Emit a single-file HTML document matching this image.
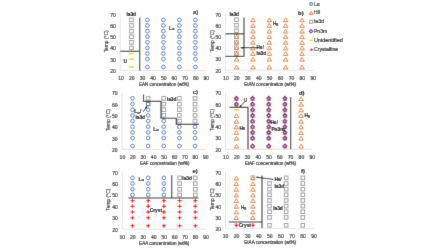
<!DOCTYPE html>
<html><head><meta charset="utf-8"><style>
html,body{margin:0;padding:0;background:#fff;}
body{width:448px;height:252px;overflow:hidden;}
svg{display:block;font-family:"Liberation Sans",Arial,sans-serif;}
</style></head><body>
<svg width="448" height="252" viewBox="0 0 448 252">
<defs><filter id="bl" x="0" y="0" width="1" height="1"><feConvolveMatrix order="3" kernelMatrix="1 9 1 9 81 9 1 9 1" divisor="121" edgeMode="duplicate" preserveAlpha="true"/></filter></defs>
<rect width="448" height="252" fill="#fff"/>
<g filter="url(#bl)">
<rect width="448" height="252" fill="#fff"/>
<line x1="120.2" y1="14.25" x2="120.2" y2="70.4" stroke="#D9D9D9" stroke-width="0.7"/>
<line x1="120.2" y1="70.4" x2="206.55" y2="70.4" stroke="#D9D9D9" stroke-width="0.7"/>
<text x="115.8" y="72.9" font-size="5" text-anchor="end" font-weight="normal" fill="#3a3a3a" stroke="#3a3a3a" stroke-width="0.22">20</text>
<text x="115.8" y="61.67" font-size="5" text-anchor="end" font-weight="normal" fill="#3a3a3a" stroke="#3a3a3a" stroke-width="0.22">30</text>
<text x="115.8" y="50.44" font-size="5" text-anchor="end" font-weight="normal" fill="#3a3a3a" stroke="#3a3a3a" stroke-width="0.22">40</text>
<text x="115.8" y="39.21" font-size="5" text-anchor="end" font-weight="normal" fill="#3a3a3a" stroke="#3a3a3a" stroke-width="0.22">50</text>
<text x="115.8" y="27.98" font-size="5" text-anchor="end" font-weight="normal" fill="#3a3a3a" stroke="#3a3a3a" stroke-width="0.22">60</text>
<text x="115.8" y="16.75" font-size="5" text-anchor="end" font-weight="normal" fill="#3a3a3a" stroke="#3a3a3a" stroke-width="0.22">70</text>
<text x="121.1" y="79.7" font-size="5" text-anchor="middle" font-weight="normal" fill="#3a3a3a" stroke="#3a3a3a" stroke-width="0.22">10</text>
<text x="131.76" y="79.7" font-size="5" text-anchor="middle" font-weight="normal" fill="#3a3a3a" stroke="#3a3a3a" stroke-width="0.22">20</text>
<text x="142.41" y="79.7" font-size="5" text-anchor="middle" font-weight="normal" fill="#3a3a3a" stroke="#3a3a3a" stroke-width="0.22">30</text>
<text x="153.07" y="79.7" font-size="5" text-anchor="middle" font-weight="normal" fill="#3a3a3a" stroke="#3a3a3a" stroke-width="0.22">40</text>
<text x="163.72" y="79.7" font-size="5" text-anchor="middle" font-weight="normal" fill="#3a3a3a" stroke="#3a3a3a" stroke-width="0.22">50</text>
<text x="174.38" y="79.7" font-size="5" text-anchor="middle" font-weight="normal" fill="#3a3a3a" stroke="#3a3a3a" stroke-width="0.22">60</text>
<text x="185.04" y="79.7" font-size="5" text-anchor="middle" font-weight="normal" fill="#3a3a3a" stroke="#3a3a3a" stroke-width="0.22">70</text>
<text x="195.69" y="79.7" font-size="5" text-anchor="middle" font-weight="normal" fill="#3a3a3a" stroke="#3a3a3a" stroke-width="0.22">80</text>
<text x="206.35" y="79.7" font-size="5" text-anchor="middle" font-weight="normal" fill="#3a3a3a" stroke="#3a3a3a" stroke-width="0.22">90</text>
<text x="139" y="86.3" font-size="4.42" text-anchor="start" font-weight="normal" fill="#3a3a3a" textLength="50" lengthAdjust="spacingAndGlyphs" stroke="#3a3a3a" stroke-width="0.22">EAN concentration (wt%)</text>
<text x="108.4" y="41.33" font-size="4.9" text-anchor="middle" fill="#3a3a3a" transform="rotate(-90 108.4 41.33)" stroke="#3a3a3a" stroke-width="0.2">Temp (°C)</text>
<text x="195.7" y="13.7" font-size="6" text-anchor="middle" font-weight="bold" fill="#000" stroke="#000" stroke-width="0.12">a)</text>
<line x1="225.4" y1="14" x2="225.4" y2="70.2" stroke="#D9D9D9" stroke-width="0.7"/>
<line x1="225.4" y1="70.2" x2="313.5" y2="70.2" stroke="#D9D9D9" stroke-width="0.7"/>
<text x="221" y="72.7" font-size="5" text-anchor="end" font-weight="normal" fill="#3a3a3a" stroke="#3a3a3a" stroke-width="0.22">20</text>
<text x="221" y="61.46" font-size="5" text-anchor="end" font-weight="normal" fill="#3a3a3a" stroke="#3a3a3a" stroke-width="0.22">30</text>
<text x="221" y="50.22" font-size="5" text-anchor="end" font-weight="normal" fill="#3a3a3a" stroke="#3a3a3a" stroke-width="0.22">40</text>
<text x="221" y="38.98" font-size="5" text-anchor="end" font-weight="normal" fill="#3a3a3a" stroke="#3a3a3a" stroke-width="0.22">50</text>
<text x="221" y="27.74" font-size="5" text-anchor="end" font-weight="normal" fill="#3a3a3a" stroke="#3a3a3a" stroke-width="0.22">60</text>
<text x="221" y="16.5" font-size="5" text-anchor="end" font-weight="normal" fill="#3a3a3a" stroke="#3a3a3a" stroke-width="0.22">70</text>
<text x="225.9" y="79.5" font-size="5" text-anchor="middle" font-weight="normal" fill="#3a3a3a" stroke="#3a3a3a" stroke-width="0.22">10</text>
<text x="236.83" y="79.5" font-size="5" text-anchor="middle" font-weight="normal" fill="#3a3a3a" stroke="#3a3a3a" stroke-width="0.22">20</text>
<text x="247.75" y="79.5" font-size="5" text-anchor="middle" font-weight="normal" fill="#3a3a3a" stroke="#3a3a3a" stroke-width="0.22">30</text>
<text x="258.68" y="79.5" font-size="5" text-anchor="middle" font-weight="normal" fill="#3a3a3a" stroke="#3a3a3a" stroke-width="0.22">40</text>
<text x="269.6" y="79.5" font-size="5" text-anchor="middle" font-weight="normal" fill="#3a3a3a" stroke="#3a3a3a" stroke-width="0.22">50</text>
<text x="280.53" y="79.5" font-size="5" text-anchor="middle" font-weight="normal" fill="#3a3a3a" stroke="#3a3a3a" stroke-width="0.22">60</text>
<text x="291.45" y="79.5" font-size="5" text-anchor="middle" font-weight="normal" fill="#3a3a3a" stroke="#3a3a3a" stroke-width="0.22">70</text>
<text x="302.38" y="79.5" font-size="5" text-anchor="middle" font-weight="normal" fill="#3a3a3a" stroke="#3a3a3a" stroke-width="0.22">80</text>
<text x="313.3" y="79.5" font-size="5" text-anchor="middle" font-weight="normal" fill="#3a3a3a" stroke="#3a3a3a" stroke-width="0.22">90</text>
<text x="244.3" y="86.1" font-size="4.42" text-anchor="start" font-weight="normal" fill="#3a3a3a" textLength="51.8" lengthAdjust="spacingAndGlyphs" stroke="#3a3a3a" stroke-width="0.22">EtAN concentration (wt%)</text>
<text x="213.6" y="41.1" font-size="4.9" text-anchor="middle" fill="#3a3a3a" transform="rotate(-90 213.6 41.1)" stroke="#3a3a3a" stroke-width="0.2">Temp (°C)</text>
<text x="300.9" y="14.6" font-size="6" text-anchor="middle" font-weight="bold" fill="#000" stroke="#000" stroke-width="0.12">b)</text>
<line x1="122" y1="92.7" x2="122" y2="149.4" stroke="#D9D9D9" stroke-width="0.7"/>
<line x1="122" y1="149.4" x2="205.94" y2="149.4" stroke="#D9D9D9" stroke-width="0.7"/>
<text x="117.6" y="151.9" font-size="5" text-anchor="end" font-weight="normal" fill="#3a3a3a" stroke="#3a3a3a" stroke-width="0.22">20</text>
<text x="117.6" y="140.56" font-size="5" text-anchor="end" font-weight="normal" fill="#3a3a3a" stroke="#3a3a3a" stroke-width="0.22">30</text>
<text x="117.6" y="129.22" font-size="5" text-anchor="end" font-weight="normal" fill="#3a3a3a" stroke="#3a3a3a" stroke-width="0.22">40</text>
<text x="117.6" y="117.88" font-size="5" text-anchor="end" font-weight="normal" fill="#3a3a3a" stroke="#3a3a3a" stroke-width="0.22">50</text>
<text x="117.6" y="106.54" font-size="5" text-anchor="end" font-weight="normal" fill="#3a3a3a" stroke="#3a3a3a" stroke-width="0.22">60</text>
<text x="117.6" y="95.2" font-size="5" text-anchor="end" font-weight="normal" fill="#3a3a3a" stroke="#3a3a3a" stroke-width="0.22">70</text>
<text x="122.4" y="158.7" font-size="5" text-anchor="middle" font-weight="normal" fill="#3a3a3a" stroke="#3a3a3a" stroke-width="0.22">10</text>
<text x="132.82" y="158.7" font-size="5" text-anchor="middle" font-weight="normal" fill="#3a3a3a" stroke="#3a3a3a" stroke-width="0.22">20</text>
<text x="143.23" y="158.7" font-size="5" text-anchor="middle" font-weight="normal" fill="#3a3a3a" stroke="#3a3a3a" stroke-width="0.22">30</text>
<text x="153.65" y="158.7" font-size="5" text-anchor="middle" font-weight="normal" fill="#3a3a3a" stroke="#3a3a3a" stroke-width="0.22">40</text>
<text x="164.07" y="158.7" font-size="5" text-anchor="middle" font-weight="normal" fill="#3a3a3a" stroke="#3a3a3a" stroke-width="0.22">50</text>
<text x="174.49" y="158.7" font-size="5" text-anchor="middle" font-weight="normal" fill="#3a3a3a" stroke="#3a3a3a" stroke-width="0.22">60</text>
<text x="184.9" y="158.7" font-size="5" text-anchor="middle" font-weight="normal" fill="#3a3a3a" stroke="#3a3a3a" stroke-width="0.22">70</text>
<text x="195.32" y="158.7" font-size="5" text-anchor="middle" font-weight="normal" fill="#3a3a3a" stroke="#3a3a3a" stroke-width="0.22">80</text>
<text x="205.74" y="158.7" font-size="5" text-anchor="middle" font-weight="normal" fill="#3a3a3a" stroke="#3a3a3a" stroke-width="0.22">90</text>
<text x="139.9" y="165.3" font-size="4.42" text-anchor="start" font-weight="normal" fill="#3a3a3a" textLength="49.5" lengthAdjust="spacingAndGlyphs" stroke="#3a3a3a" stroke-width="0.22">EAF concentration (wt%)</text>
<text x="110.2" y="120.05" font-size="4.9" text-anchor="middle" fill="#3a3a3a" transform="rotate(-90 110.2 120.05)" stroke="#3a3a3a" stroke-width="0.2">Temp (°C)</text>
<text x="195.4" y="94.1" font-size="6" text-anchor="middle" font-weight="bold" fill="#000" stroke="#000" stroke-width="0.12">c)</text>
<line x1="225.5" y1="92.7" x2="225.5" y2="149.3" stroke="#D9D9D9" stroke-width="0.7"/>
<line x1="225.5" y1="149.3" x2="312.38" y2="149.3" stroke="#D9D9D9" stroke-width="0.7"/>
<text x="221.1" y="151.8" font-size="5" text-anchor="end" font-weight="normal" fill="#3a3a3a" stroke="#3a3a3a" stroke-width="0.22">20</text>
<text x="221.1" y="140.48" font-size="5" text-anchor="end" font-weight="normal" fill="#3a3a3a" stroke="#3a3a3a" stroke-width="0.22">30</text>
<text x="221.1" y="129.16" font-size="5" text-anchor="end" font-weight="normal" fill="#3a3a3a" stroke="#3a3a3a" stroke-width="0.22">40</text>
<text x="221.1" y="117.84" font-size="5" text-anchor="end" font-weight="normal" fill="#3a3a3a" stroke="#3a3a3a" stroke-width="0.22">50</text>
<text x="221.1" y="106.52" font-size="5" text-anchor="end" font-weight="normal" fill="#3a3a3a" stroke="#3a3a3a" stroke-width="0.22">60</text>
<text x="221.1" y="95.2" font-size="5" text-anchor="end" font-weight="normal" fill="#3a3a3a" stroke="#3a3a3a" stroke-width="0.22">70</text>
<text x="225.9" y="158.6" font-size="5" text-anchor="middle" font-weight="normal" fill="#3a3a3a" stroke="#3a3a3a" stroke-width="0.22">10</text>
<text x="236.69" y="158.6" font-size="5" text-anchor="middle" font-weight="normal" fill="#3a3a3a" stroke="#3a3a3a" stroke-width="0.22">20</text>
<text x="247.47" y="158.6" font-size="5" text-anchor="middle" font-weight="normal" fill="#3a3a3a" stroke="#3a3a3a" stroke-width="0.22">30</text>
<text x="258.25" y="158.6" font-size="5" text-anchor="middle" font-weight="normal" fill="#3a3a3a" stroke="#3a3a3a" stroke-width="0.22">40</text>
<text x="269.04" y="158.6" font-size="5" text-anchor="middle" font-weight="normal" fill="#3a3a3a" stroke="#3a3a3a" stroke-width="0.22">50</text>
<text x="279.82" y="158.6" font-size="5" text-anchor="middle" font-weight="normal" fill="#3a3a3a" stroke="#3a3a3a" stroke-width="0.22">60</text>
<text x="290.61" y="158.6" font-size="5" text-anchor="middle" font-weight="normal" fill="#3a3a3a" stroke="#3a3a3a" stroke-width="0.22">70</text>
<text x="301.4" y="158.6" font-size="5" text-anchor="middle" font-weight="normal" fill="#3a3a3a" stroke="#3a3a3a" stroke-width="0.22">80</text>
<text x="312.18" y="158.6" font-size="5" text-anchor="middle" font-weight="normal" fill="#3a3a3a" stroke="#3a3a3a" stroke-width="0.22">90</text>
<text x="244.8" y="165.2" font-size="4.42" text-anchor="start" font-weight="normal" fill="#3a3a3a" textLength="51.2" lengthAdjust="spacingAndGlyphs" stroke="#3a3a3a" stroke-width="0.22">EtAF concentration (wt%)</text>
<text x="213.7" y="120" font-size="4.9" text-anchor="middle" fill="#3a3a3a" transform="rotate(-90 213.7 120)" stroke="#3a3a3a" stroke-width="0.2">Temp (°C)</text>
<text x="301.8" y="94.8" font-size="6" text-anchor="middle" font-weight="bold" fill="#000" stroke="#000" stroke-width="0.12">d)</text>
<line x1="122.3" y1="172.2" x2="122.3" y2="229.2" stroke="#D9D9D9" stroke-width="0.7"/>
<line x1="122.3" y1="229.2" x2="206.26" y2="229.2" stroke="#D9D9D9" stroke-width="0.7"/>
<text x="117.9" y="231.6" font-size="5" text-anchor="end" font-weight="normal" fill="#3a3a3a" stroke="#3a3a3a" stroke-width="0.22">20</text>
<text x="117.9" y="220.22" font-size="5" text-anchor="end" font-weight="normal" fill="#3a3a3a" stroke="#3a3a3a" stroke-width="0.22">30</text>
<text x="117.9" y="208.84" font-size="5" text-anchor="end" font-weight="normal" fill="#3a3a3a" stroke="#3a3a3a" stroke-width="0.22">40</text>
<text x="117.9" y="197.46" font-size="5" text-anchor="end" font-weight="normal" fill="#3a3a3a" stroke="#3a3a3a" stroke-width="0.22">50</text>
<text x="117.9" y="186.08" font-size="5" text-anchor="end" font-weight="normal" fill="#3a3a3a" stroke="#3a3a3a" stroke-width="0.22">60</text>
<text x="117.9" y="174.7" font-size="5" text-anchor="end" font-weight="normal" fill="#3a3a3a" stroke="#3a3a3a" stroke-width="0.22">70</text>
<text x="122.3" y="238.5" font-size="5" text-anchor="middle" font-weight="normal" fill="#3a3a3a" stroke="#3a3a3a" stroke-width="0.22">10</text>
<text x="132.77" y="238.5" font-size="5" text-anchor="middle" font-weight="normal" fill="#3a3a3a" stroke="#3a3a3a" stroke-width="0.22">20</text>
<text x="143.24" y="238.5" font-size="5" text-anchor="middle" font-weight="normal" fill="#3a3a3a" stroke="#3a3a3a" stroke-width="0.22">30</text>
<text x="153.71" y="238.5" font-size="5" text-anchor="middle" font-weight="normal" fill="#3a3a3a" stroke="#3a3a3a" stroke-width="0.22">40</text>
<text x="164.18" y="238.5" font-size="5" text-anchor="middle" font-weight="normal" fill="#3a3a3a" stroke="#3a3a3a" stroke-width="0.22">50</text>
<text x="174.65" y="238.5" font-size="5" text-anchor="middle" font-weight="normal" fill="#3a3a3a" stroke="#3a3a3a" stroke-width="0.22">60</text>
<text x="185.12" y="238.5" font-size="5" text-anchor="middle" font-weight="normal" fill="#3a3a3a" stroke="#3a3a3a" stroke-width="0.22">70</text>
<text x="195.59" y="238.5" font-size="5" text-anchor="middle" font-weight="normal" fill="#3a3a3a" stroke="#3a3a3a" stroke-width="0.22">80</text>
<text x="206.06" y="238.5" font-size="5" text-anchor="middle" font-weight="normal" fill="#3a3a3a" stroke="#3a3a3a" stroke-width="0.22">90</text>
<text x="139.1" y="245.1" font-size="4.42" text-anchor="start" font-weight="normal" fill="#3a3a3a" textLength="50.3" lengthAdjust="spacingAndGlyphs" stroke="#3a3a3a" stroke-width="0.22">EAA concentration (wt%)</text>
<text x="110.5" y="199.7" font-size="4.9" text-anchor="middle" fill="#3a3a3a" transform="rotate(-90 110.5 199.7)" stroke="#3a3a3a" stroke-width="0.2">Temp (°C)</text>
<text x="195.2" y="172.8" font-size="6" text-anchor="middle" font-weight="bold" fill="#000" stroke="#000" stroke-width="0.12">e)</text>
<line x1="225.5" y1="172.2" x2="225.5" y2="228.4" stroke="#D9D9D9" stroke-width="0.7"/>
<line x1="225.5" y1="228.4" x2="314.34" y2="228.4" stroke="#D9D9D9" stroke-width="0.7"/>
<text x="221.1" y="231.2" font-size="5" text-anchor="end" font-weight="normal" fill="#3a3a3a" stroke="#3a3a3a" stroke-width="0.22">20</text>
<text x="221.1" y="219.9" font-size="5" text-anchor="end" font-weight="normal" fill="#3a3a3a" stroke="#3a3a3a" stroke-width="0.22">30</text>
<text x="221.1" y="208.6" font-size="5" text-anchor="end" font-weight="normal" fill="#3a3a3a" stroke="#3a3a3a" stroke-width="0.22">40</text>
<text x="221.1" y="197.3" font-size="5" text-anchor="end" font-weight="normal" fill="#3a3a3a" stroke="#3a3a3a" stroke-width="0.22">50</text>
<text x="221.1" y="186" font-size="5" text-anchor="end" font-weight="normal" fill="#3a3a3a" stroke="#3a3a3a" stroke-width="0.22">60</text>
<text x="221.1" y="174.7" font-size="5" text-anchor="end" font-weight="normal" fill="#3a3a3a" stroke="#3a3a3a" stroke-width="0.22">70</text>
<text x="225.5" y="237.7" font-size="5" text-anchor="middle" font-weight="normal" fill="#3a3a3a" stroke="#3a3a3a" stroke-width="0.22">10</text>
<text x="236.58" y="237.7" font-size="5" text-anchor="middle" font-weight="normal" fill="#3a3a3a" stroke="#3a3a3a" stroke-width="0.22">20</text>
<text x="247.66" y="237.7" font-size="5" text-anchor="middle" font-weight="normal" fill="#3a3a3a" stroke="#3a3a3a" stroke-width="0.22">30</text>
<text x="258.74" y="237.7" font-size="5" text-anchor="middle" font-weight="normal" fill="#3a3a3a" stroke="#3a3a3a" stroke-width="0.22">40</text>
<text x="269.82" y="237.7" font-size="5" text-anchor="middle" font-weight="normal" fill="#3a3a3a" stroke="#3a3a3a" stroke-width="0.22">50</text>
<text x="280.9" y="237.7" font-size="5" text-anchor="middle" font-weight="normal" fill="#3a3a3a" stroke="#3a3a3a" stroke-width="0.22">60</text>
<text x="291.98" y="237.7" font-size="5" text-anchor="middle" font-weight="normal" fill="#3a3a3a" stroke="#3a3a3a" stroke-width="0.22">70</text>
<text x="303.06" y="237.7" font-size="5" text-anchor="middle" font-weight="normal" fill="#3a3a3a" stroke="#3a3a3a" stroke-width="0.22">80</text>
<text x="314.14" y="237.7" font-size="5" text-anchor="middle" font-weight="normal" fill="#3a3a3a" stroke="#3a3a3a" stroke-width="0.22">90</text>
<text x="244.3" y="244.3" font-size="4.42" text-anchor="start" font-weight="normal" fill="#3a3a3a" textLength="51.8" lengthAdjust="spacingAndGlyphs" stroke="#3a3a3a" stroke-width="0.22">EtAA concentration (wt%)</text>
<text x="213.7" y="199.3" font-size="4.9" text-anchor="middle" fill="#3a3a3a" transform="rotate(-90 213.7 199.3)" stroke="#3a3a3a" stroke-width="0.2">Temp (°C)</text>
<text x="303" y="172.9" font-size="6" text-anchor="middle" font-weight="bold" fill="#000" stroke="#000" stroke-width="0.12">f)</text>
<rect x="129.66" y="18.07" width="3.6" height="3.6" fill="none" stroke="#999999" stroke-width="0.95"/>
<rect x="129.66" y="23.68" width="3.6" height="3.6" fill="none" stroke="#999999" stroke-width="0.95"/>
<rect x="129.66" y="29.3" width="3.6" height="3.6" fill="none" stroke="#999999" stroke-width="0.95"/>
<rect x="129.66" y="34.91" width="3.6" height="3.6" fill="none" stroke="#999999" stroke-width="0.95"/>
<rect x="129.66" y="40.53" width="3.6" height="3.6" fill="none" stroke="#999999" stroke-width="0.95"/>
<rect x="129.66" y="46.14" width="3.6" height="3.6" fill="none" stroke="#999999" stroke-width="0.95"/>
<line x1="128.96" y1="53.56" x2="133.96" y2="53.56" stroke="#FFC000" stroke-width="1.3"/>
<line x1="128.96" y1="59.17" x2="133.96" y2="59.17" stroke="#FFC000" stroke-width="1.3"/>
<line x1="128.96" y1="67.03" x2="133.96" y2="67.03" stroke="#FFC000" stroke-width="1.3"/>
<circle cx="147.44" cy="19.87" r="1.85" fill="none" stroke="#3D6BC0" stroke-width="0.9"/>
<circle cx="147.44" cy="25.48" r="1.85" fill="none" stroke="#3D6BC0" stroke-width="0.9"/>
<circle cx="147.44" cy="31.1" r="1.85" fill="none" stroke="#3D6BC0" stroke-width="0.9"/>
<circle cx="147.44" cy="36.71" r="1.85" fill="none" stroke="#3D6BC0" stroke-width="0.9"/>
<circle cx="147.44" cy="42.33" r="1.85" fill="none" stroke="#3D6BC0" stroke-width="0.9"/>
<circle cx="147.44" cy="47.94" r="1.85" fill="none" stroke="#3D6BC0" stroke-width="0.9"/>
<circle cx="147.44" cy="53.56" r="1.85" fill="none" stroke="#3D6BC0" stroke-width="0.9"/>
<circle cx="147.44" cy="59.17" r="1.85" fill="none" stroke="#3D6BC0" stroke-width="0.9"/>
<circle cx="147.44" cy="67.03" r="1.85" fill="none" stroke="#3D6BC0" stroke-width="0.9"/>
<circle cx="163.42" cy="19.87" r="1.85" fill="none" stroke="#3D6BC0" stroke-width="0.9"/>
<circle cx="163.42" cy="25.48" r="1.85" fill="none" stroke="#3D6BC0" stroke-width="0.9"/>
<circle cx="163.42" cy="31.1" r="1.85" fill="none" stroke="#3D6BC0" stroke-width="0.9"/>
<circle cx="163.42" cy="36.71" r="1.85" fill="none" stroke="#3D6BC0" stroke-width="0.9"/>
<circle cx="163.42" cy="42.33" r="1.85" fill="none" stroke="#3D6BC0" stroke-width="0.9"/>
<circle cx="163.42" cy="47.94" r="1.85" fill="none" stroke="#3D6BC0" stroke-width="0.9"/>
<circle cx="163.42" cy="53.56" r="1.85" fill="none" stroke="#3D6BC0" stroke-width="0.9"/>
<circle cx="163.42" cy="59.17" r="1.85" fill="none" stroke="#3D6BC0" stroke-width="0.9"/>
<circle cx="163.42" cy="67.03" r="1.85" fill="none" stroke="#3D6BC0" stroke-width="0.9"/>
<circle cx="179.41" cy="19.87" r="1.85" fill="none" stroke="#3D6BC0" stroke-width="0.9"/>
<circle cx="179.41" cy="25.48" r="1.85" fill="none" stroke="#3D6BC0" stroke-width="0.9"/>
<circle cx="179.41" cy="31.1" r="1.85" fill="none" stroke="#3D6BC0" stroke-width="0.9"/>
<circle cx="179.41" cy="36.71" r="1.85" fill="none" stroke="#3D6BC0" stroke-width="0.9"/>
<circle cx="179.41" cy="42.33" r="1.85" fill="none" stroke="#3D6BC0" stroke-width="0.9"/>
<circle cx="179.41" cy="47.94" r="1.85" fill="none" stroke="#3D6BC0" stroke-width="0.9"/>
<circle cx="179.41" cy="53.56" r="1.85" fill="none" stroke="#3D6BC0" stroke-width="0.9"/>
<circle cx="179.41" cy="59.17" r="1.85" fill="none" stroke="#3D6BC0" stroke-width="0.9"/>
<circle cx="179.41" cy="67.03" r="1.85" fill="none" stroke="#3D6BC0" stroke-width="0.9"/>
<circle cx="195.39" cy="19.87" r="1.85" fill="none" stroke="#3D6BC0" stroke-width="0.9"/>
<circle cx="195.39" cy="25.48" r="1.85" fill="none" stroke="#3D6BC0" stroke-width="0.9"/>
<circle cx="195.39" cy="31.1" r="1.85" fill="none" stroke="#3D6BC0" stroke-width="0.9"/>
<circle cx="195.39" cy="36.71" r="1.85" fill="none" stroke="#3D6BC0" stroke-width="0.9"/>
<circle cx="195.39" cy="42.33" r="1.85" fill="none" stroke="#3D6BC0" stroke-width="0.9"/>
<circle cx="195.39" cy="47.94" r="1.85" fill="none" stroke="#3D6BC0" stroke-width="0.9"/>
<circle cx="195.39" cy="53.56" r="1.85" fill="none" stroke="#3D6BC0" stroke-width="0.9"/>
<circle cx="195.39" cy="59.17" r="1.85" fill="none" stroke="#3D6BC0" stroke-width="0.9"/>
<circle cx="195.39" cy="67.03" r="1.85" fill="none" stroke="#3D6BC0" stroke-width="0.9"/>
<path d="M139.7 17.7 L139.7 70.4" stroke="#3a3a3a" stroke-width="1.15" fill="none"/>
<path d="M120.2 51.3 L139.7 51.3" stroke="#3a3a3a" stroke-width="1.15" fill="none"/>
<text x="131.2" y="16.2" font-size="4.8" text-anchor="middle" font-weight="bold" fill="#000" stroke="#000" stroke-width="0.12">Ia3d</text>
<text x="171.8" y="29.9" font-size="4.8" text-anchor="middle" font-weight="bold" fill="#000" stroke="#000" stroke-width="0.12">L<tspan font-size="4.0" dy="0.35">α</tspan></text>
<text x="125.3" y="62.9" font-size="4.8" text-anchor="middle" font-weight="bold" fill="#000" stroke="#000" stroke-width="0.12">U</text>
<rect x="234.58" y="34.53" width="3.9" height="3.9" fill="none" stroke="#999999" stroke-width="0.75"/>
<polygon points="236.53,35.08 234.53,38.48 238.53,38.48" fill="none" stroke="#EB7424" stroke-width="0.9" stroke-linejoin="round"/>
<rect x="234.58" y="40.15" width="3.9" height="3.9" fill="none" stroke="#999999" stroke-width="0.75"/>
<polygon points="236.53,40.7 234.53,44.1 238.53,44.1" fill="none" stroke="#EB7424" stroke-width="0.9" stroke-linejoin="round"/>
<rect x="234.58" y="45.77" width="3.9" height="3.9" fill="none" stroke="#999999" stroke-width="0.75"/>
<polygon points="236.53,46.32 234.53,49.72 238.53,49.72" fill="none" stroke="#EB7424" stroke-width="0.9" stroke-linejoin="round"/>
<rect x="234.58" y="51.39" width="3.9" height="3.9" fill="none" stroke="#999999" stroke-width="0.75"/>
<polygon points="236.53,51.94 234.53,55.34 238.53,55.34" fill="none" stroke="#EB7424" stroke-width="0.9" stroke-linejoin="round"/>
<rect x="234.72" y="17.82" width="3.6" height="3.6" fill="none" stroke="#999999" stroke-width="0.95"/>
<rect x="234.72" y="23.44" width="3.6" height="3.6" fill="none" stroke="#999999" stroke-width="0.95"/>
<rect x="234.72" y="29.06" width="3.6" height="3.6" fill="none" stroke="#999999" stroke-width="0.95"/>
<polygon points="236.53,57.29 234.22,61.09 238.83,61.09" fill="none" stroke="#EB7424" stroke-width="0.9" stroke-linejoin="round"/>
<polygon points="236.53,65.16 234.22,68.96 238.83,68.96" fill="none" stroke="#EB7424" stroke-width="0.9" stroke-linejoin="round"/>
<polygon points="252.91,17.95 250.61,21.75 255.21,21.75" fill="none" stroke="#EB7424" stroke-width="0.9" stroke-linejoin="round"/>
<polygon points="252.91,23.57 250.61,27.37 255.21,27.37" fill="none" stroke="#EB7424" stroke-width="0.9" stroke-linejoin="round"/>
<polygon points="252.91,29.19 250.61,32.99 255.21,32.99" fill="none" stroke="#EB7424" stroke-width="0.9" stroke-linejoin="round"/>
<polygon points="252.91,34.81 250.61,38.61 255.21,38.61" fill="none" stroke="#EB7424" stroke-width="0.9" stroke-linejoin="round"/>
<polygon points="252.91,40.43 250.61,44.23 255.21,44.23" fill="none" stroke="#EB7424" stroke-width="0.9" stroke-linejoin="round"/>
<polygon points="252.91,46.05 250.61,49.85 255.21,49.85" fill="none" stroke="#EB7424" stroke-width="0.9" stroke-linejoin="round"/>
<polygon points="252.91,51.67 250.61,55.47 255.21,55.47" fill="none" stroke="#EB7424" stroke-width="0.9" stroke-linejoin="round"/>
<polygon points="252.91,57.29 250.61,61.09 255.21,61.09" fill="none" stroke="#EB7424" stroke-width="0.9" stroke-linejoin="round"/>
<polygon points="252.91,65.16 250.61,68.96 255.21,68.96" fill="none" stroke="#EB7424" stroke-width="0.9" stroke-linejoin="round"/>
<polygon points="269.3,17.95 267,21.75 271.6,21.75" fill="none" stroke="#EB7424" stroke-width="0.9" stroke-linejoin="round"/>
<polygon points="269.3,23.57 267,27.37 271.6,27.37" fill="none" stroke="#EB7424" stroke-width="0.9" stroke-linejoin="round"/>
<polygon points="269.3,29.19 267,32.99 271.6,32.99" fill="none" stroke="#EB7424" stroke-width="0.9" stroke-linejoin="round"/>
<polygon points="269.3,34.81 267,38.61 271.6,38.61" fill="none" stroke="#EB7424" stroke-width="0.9" stroke-linejoin="round"/>
<polygon points="269.3,40.43 267,44.23 271.6,44.23" fill="none" stroke="#EB7424" stroke-width="0.9" stroke-linejoin="round"/>
<polygon points="269.3,46.05 267,49.85 271.6,49.85" fill="none" stroke="#EB7424" stroke-width="0.9" stroke-linejoin="round"/>
<polygon points="269.3,51.67 267,55.47 271.6,55.47" fill="none" stroke="#EB7424" stroke-width="0.9" stroke-linejoin="round"/>
<polygon points="269.3,57.29 267,61.09 271.6,61.09" fill="none" stroke="#EB7424" stroke-width="0.9" stroke-linejoin="round"/>
<polygon points="269.3,65.16 267,68.96 271.6,68.96" fill="none" stroke="#EB7424" stroke-width="0.9" stroke-linejoin="round"/>
<polygon points="285.69,17.95 283.39,21.75 287.99,21.75" fill="none" stroke="#EB7424" stroke-width="0.9" stroke-linejoin="round"/>
<polygon points="285.69,23.57 283.39,27.37 287.99,27.37" fill="none" stroke="#EB7424" stroke-width="0.9" stroke-linejoin="round"/>
<polygon points="285.69,29.19 283.39,32.99 287.99,32.99" fill="none" stroke="#EB7424" stroke-width="0.9" stroke-linejoin="round"/>
<polygon points="285.69,34.81 283.39,38.61 287.99,38.61" fill="none" stroke="#EB7424" stroke-width="0.9" stroke-linejoin="round"/>
<polygon points="285.69,40.43 283.39,44.23 287.99,44.23" fill="none" stroke="#EB7424" stroke-width="0.9" stroke-linejoin="round"/>
<polygon points="285.69,46.05 283.39,49.85 287.99,49.85" fill="none" stroke="#EB7424" stroke-width="0.9" stroke-linejoin="round"/>
<polygon points="285.69,51.67 283.39,55.47 287.99,55.47" fill="none" stroke="#EB7424" stroke-width="0.9" stroke-linejoin="round"/>
<polygon points="285.69,57.29 283.39,61.09 287.99,61.09" fill="none" stroke="#EB7424" stroke-width="0.9" stroke-linejoin="round"/>
<polygon points="285.69,65.16 283.39,68.96 287.99,68.96" fill="none" stroke="#EB7424" stroke-width="0.9" stroke-linejoin="round"/>
<polygon points="302.07,17.95 299.77,21.75 304.38,21.75" fill="none" stroke="#EB7424" stroke-width="0.9" stroke-linejoin="round"/>
<polygon points="302.07,23.57 299.77,27.37 304.38,27.37" fill="none" stroke="#EB7424" stroke-width="0.9" stroke-linejoin="round"/>
<polygon points="302.07,29.19 299.77,32.99 304.38,32.99" fill="none" stroke="#EB7424" stroke-width="0.9" stroke-linejoin="round"/>
<polygon points="302.07,34.81 299.77,38.61 304.38,38.61" fill="none" stroke="#EB7424" stroke-width="0.9" stroke-linejoin="round"/>
<polygon points="302.07,40.43 299.77,44.23 304.38,44.23" fill="none" stroke="#EB7424" stroke-width="0.9" stroke-linejoin="round"/>
<polygon points="302.07,46.05 299.77,49.85 304.38,49.85" fill="none" stroke="#EB7424" stroke-width="0.9" stroke-linejoin="round"/>
<polygon points="302.07,51.67 299.77,55.47 304.38,55.47" fill="none" stroke="#EB7424" stroke-width="0.9" stroke-linejoin="round"/>
<polygon points="302.07,57.29 299.77,61.09 304.38,61.09" fill="none" stroke="#EB7424" stroke-width="0.9" stroke-linejoin="round"/>
<polygon points="302.07,65.16 299.77,68.96 304.38,68.96" fill="none" stroke="#EB7424" stroke-width="0.9" stroke-linejoin="round"/>
<path d="M244 17.5 L244 56.4" stroke="#3a3a3a" stroke-width="1.15" fill="none"/>
<path d="M225.4 33.8 L244 33.8" stroke="#3a3a3a" stroke-width="1.15" fill="none"/>
<path d="M225.4 56.4 L244 56.4" stroke="#3a3a3a" stroke-width="1.15" fill="none"/>
<line x1="257" y1="47.7" x2="240.6" y2="47.7" stroke="#000" stroke-width="0.8"/>
<polygon points="240.6,47.7 242.9,46.75 242.9,48.65" fill="#000"/>
<text x="234.2" y="16.2" font-size="4.8" text-anchor="middle" font-weight="bold" fill="#000" stroke="#000" stroke-width="0.12">Ia3d</text>
<text x="275.6" y="25.4" font-size="4.8" text-anchor="middle" font-weight="bold" fill="#000" stroke="#000" stroke-width="0.12">H<tspan font-size="3.7" dy="0.35">II</tspan></text>
<text x="256.6" y="48.8" font-size="4.8" text-anchor="start" font-weight="bold" fill="#000" stroke="#000" stroke-width="0.12">H<tspan font-size="3.7" dy="0.35">II</tspan><tspan dx="0.3" dy="-0.35">/</tspan></text>
<text x="256.6" y="55.2" font-size="4.8" text-anchor="start" font-weight="bold" fill="#000" stroke="#000" stroke-width="0.12">Ia3d</text>
<circle cx="132.52" cy="98.37" r="1.85" fill="none" stroke="#3D6BC0" stroke-width="0.9"/>
<circle cx="132.52" cy="104.04" r="1.85" fill="none" stroke="#3D6BC0" stroke-width="0.9"/>
<circle cx="132.52" cy="109.71" r="1.85" fill="none" stroke="#3D6BC0" stroke-width="0.9"/>
<circle cx="132.52" cy="115.38" r="1.85" fill="none" stroke="#3D6BC0" stroke-width="0.9"/>
<circle cx="132.52" cy="121.05" r="1.85" fill="none" stroke="#3D6BC0" stroke-width="0.9"/>
<circle cx="132.52" cy="126.72" r="1.85" fill="none" stroke="#3D6BC0" stroke-width="0.9"/>
<circle cx="132.52" cy="132.39" r="1.85" fill="none" stroke="#3D6BC0" stroke-width="0.9"/>
<circle cx="132.52" cy="138.06" r="1.85" fill="none" stroke="#3D6BC0" stroke-width="0.9"/>
<circle cx="132.52" cy="146" r="1.85" fill="none" stroke="#3D6BC0" stroke-width="0.9"/>
<rect x="146.34" y="96.57" width="3.6" height="3.6" fill="none" stroke="#999999" stroke-width="0.95"/>
<rect x="146.34" y="102.24" width="3.6" height="3.6" fill="none" stroke="#999999" stroke-width="0.95"/>
<circle cx="148.14" cy="104.04" r="1.85" fill="none" stroke="#3D6BC0" stroke-width="0.9"/>
<circle cx="148.14" cy="109.71" r="1.85" fill="none" stroke="#3D6BC0" stroke-width="0.9"/>
<circle cx="148.14" cy="115.38" r="1.85" fill="none" stroke="#3D6BC0" stroke-width="0.9"/>
<circle cx="148.14" cy="121.05" r="1.85" fill="none" stroke="#3D6BC0" stroke-width="0.9"/>
<circle cx="148.14" cy="126.72" r="1.85" fill="none" stroke="#3D6BC0" stroke-width="0.9"/>
<circle cx="148.14" cy="132.39" r="1.85" fill="none" stroke="#3D6BC0" stroke-width="0.9"/>
<circle cx="148.14" cy="138.06" r="1.85" fill="none" stroke="#3D6BC0" stroke-width="0.9"/>
<circle cx="148.14" cy="146" r="1.85" fill="none" stroke="#3D6BC0" stroke-width="0.9"/>
<rect x="161.97" y="96.57" width="3.6" height="3.6" fill="none" stroke="#999999" stroke-width="0.95"/>
<rect x="161.97" y="102.24" width="3.6" height="3.6" fill="none" stroke="#999999" stroke-width="0.95"/>
<rect x="161.97" y="107.91" width="3.6" height="3.6" fill="none" stroke="#999999" stroke-width="0.95"/>
<rect x="161.97" y="113.58" width="3.6" height="3.6" fill="none" stroke="#999999" stroke-width="0.95"/>
<circle cx="163.77" cy="121.05" r="1.85" fill="none" stroke="#3D6BC0" stroke-width="0.9"/>
<circle cx="163.77" cy="126.72" r="1.85" fill="none" stroke="#3D6BC0" stroke-width="0.9"/>
<circle cx="163.77" cy="132.39" r="1.85" fill="none" stroke="#3D6BC0" stroke-width="0.9"/>
<circle cx="163.77" cy="138.06" r="1.85" fill="none" stroke="#3D6BC0" stroke-width="0.9"/>
<circle cx="163.77" cy="146" r="1.85" fill="none" stroke="#3D6BC0" stroke-width="0.9"/>
<rect x="177.59" y="96.57" width="3.6" height="3.6" fill="none" stroke="#999999" stroke-width="0.95"/>
<rect x="177.59" y="102.24" width="3.6" height="3.6" fill="none" stroke="#999999" stroke-width="0.95"/>
<rect x="177.59" y="107.91" width="3.6" height="3.6" fill="none" stroke="#999999" stroke-width="0.95"/>
<rect x="177.59" y="113.58" width="3.6" height="3.6" fill="none" stroke="#999999" stroke-width="0.95"/>
<rect x="177.59" y="119.25" width="3.6" height="3.6" fill="none" stroke="#999999" stroke-width="0.95"/>
<circle cx="179.39" cy="126.72" r="1.85" fill="none" stroke="#3D6BC0" stroke-width="0.9"/>
<circle cx="179.39" cy="132.39" r="1.85" fill="none" stroke="#3D6BC0" stroke-width="0.9"/>
<circle cx="179.39" cy="138.06" r="1.85" fill="none" stroke="#3D6BC0" stroke-width="0.9"/>
<circle cx="179.39" cy="146" r="1.85" fill="none" stroke="#3D6BC0" stroke-width="0.9"/>
<rect x="193.22" y="96.57" width="3.6" height="3.6" fill="none" stroke="#999999" stroke-width="0.95"/>
<rect x="193.22" y="102.24" width="3.6" height="3.6" fill="none" stroke="#999999" stroke-width="0.95"/>
<rect x="193.22" y="107.91" width="3.6" height="3.6" fill="none" stroke="#999999" stroke-width="0.95"/>
<rect x="193.22" y="113.58" width="3.6" height="3.6" fill="none" stroke="#999999" stroke-width="0.95"/>
<rect x="193.22" y="119.25" width="3.6" height="3.6" fill="none" stroke="#999999" stroke-width="0.95"/>
<circle cx="195.02" cy="126.72" r="1.85" fill="none" stroke="#3D6BC0" stroke-width="0.9"/>
<circle cx="195.02" cy="132.39" r="1.85" fill="none" stroke="#3D6BC0" stroke-width="0.9"/>
<circle cx="195.02" cy="138.06" r="1.85" fill="none" stroke="#3D6BC0" stroke-width="0.9"/>
<circle cx="195.02" cy="146" r="1.85" fill="none" stroke="#3D6BC0" stroke-width="0.9"/>
<path d="M143.5 94.6 L143.5 101.3 L161 101.3 L161 118.2 L176.3 118.2 L176.3 124.3 L199 124.3" stroke="#3a3a3a" stroke-width="1.15" fill="none"/>
<line x1="143.2" y1="111.9" x2="147" y2="106" stroke="#000" stroke-width="0.8"/>
<polygon points="147,106 146.55,108.45 144.96,107.42" fill="#000"/>
<text x="137.8" y="113.2" font-size="4.8" text-anchor="middle" font-weight="bold" fill="#000" stroke="#000" stroke-width="0.12">L<tspan font-size="4.0" dy="0.35">α</tspan><tspan dx="0.3" dy="-0.35">/</tspan></text>
<text x="140.2" y="119.1" font-size="4.8" text-anchor="middle" font-weight="bold" fill="#000" stroke="#000" stroke-width="0.12">Ia3d</text>
<text x="166.8" y="100.9" font-size="4.8" text-anchor="start" font-weight="bold" fill="#000" stroke="#000" stroke-width="0.12">Ia3d</text>
<text x="156" y="130.7" font-size="4.8" text-anchor="middle" font-weight="bold" fill="#000" stroke="#000" stroke-width="0.12">L<tspan font-size="4.0" dy="0.35">α</tspan></text>
<polygon points="236.38,97.39 234.44,100.39 238.33,100.39" fill="none" stroke="#EB7424" stroke-width="1" stroke-linejoin="round"/>
<polygon points="236.38,96.41 238.33,98.36 236.38,100.31 234.44,98.36" fill="none" stroke="#7030A0" stroke-width="1.15"/>
<polygon points="236.38,103.05 234.44,106.05 238.33,106.05" fill="none" stroke="#EB7424" stroke-width="1" stroke-linejoin="round"/>
<polygon points="236.38,102.07 238.33,104.02 236.38,105.97 234.44,104.02" fill="none" stroke="#7030A0" stroke-width="1.15"/>
<line x1="233.88" y1="109.68" x2="238.88" y2="109.68" stroke="#FFC000" stroke-width="1.3"/>
<polygon points="236.38,113.67 234.08,117.47 238.69,117.47" fill="none" stroke="#EB7424" stroke-width="0.9" stroke-linejoin="round"/>
<polygon points="236.38,119.33 234.08,123.13 238.69,123.13" fill="none" stroke="#EB7424" stroke-width="0.9" stroke-linejoin="round"/>
<polygon points="236.38,124.99 234.08,128.79 238.69,128.79" fill="none" stroke="#EB7424" stroke-width="0.9" stroke-linejoin="round"/>
<polygon points="236.38,130.65 234.08,134.45 238.69,134.45" fill="none" stroke="#EB7424" stroke-width="0.9" stroke-linejoin="round"/>
<polygon points="236.38,136.31 234.08,140.11 238.69,140.11" fill="none" stroke="#EB7424" stroke-width="0.9" stroke-linejoin="round"/>
<polygon points="236.38,144.23 234.08,148.03 238.69,148.03" fill="none" stroke="#EB7424" stroke-width="0.9" stroke-linejoin="round"/>
<polygon points="252.56,97.39 250.61,100.39 254.51,100.39" fill="none" stroke="#EB7424" stroke-width="1" stroke-linejoin="round"/>
<polygon points="252.56,96.41 254.51,98.36 252.56,100.31 250.61,98.36" fill="none" stroke="#7030A0" stroke-width="1.15"/>
<polygon points="252.56,103.05 250.61,106.05 254.51,106.05" fill="none" stroke="#EB7424" stroke-width="1" stroke-linejoin="round"/>
<polygon points="252.56,102.07 254.51,104.02 252.56,105.97 250.61,104.02" fill="none" stroke="#7030A0" stroke-width="1.15"/>
<polygon points="252.56,108.71 250.61,111.71 254.51,111.71" fill="none" stroke="#EB7424" stroke-width="1" stroke-linejoin="round"/>
<polygon points="252.56,107.73 254.51,109.68 252.56,111.63 250.61,109.68" fill="none" stroke="#7030A0" stroke-width="1.15"/>
<polygon points="252.56,114.37 250.61,117.37 254.51,117.37" fill="none" stroke="#EB7424" stroke-width="1" stroke-linejoin="round"/>
<polygon points="252.56,113.39 254.51,115.34 252.56,117.29 250.61,115.34" fill="none" stroke="#7030A0" stroke-width="1.15"/>
<polygon points="252.56,120.03 250.61,123.03 254.51,123.03" fill="none" stroke="#EB7424" stroke-width="1" stroke-linejoin="round"/>
<polygon points="252.56,119.05 254.51,121 252.56,122.95 250.61,121" fill="none" stroke="#7030A0" stroke-width="1.15"/>
<polygon points="252.56,125.69 250.61,128.69 254.51,128.69" fill="none" stroke="#EB7424" stroke-width="1" stroke-linejoin="round"/>
<polygon points="252.56,124.71 254.51,126.66 252.56,128.61 250.61,126.66" fill="none" stroke="#7030A0" stroke-width="1.15"/>
<polygon points="252.56,131.35 250.61,134.35 254.51,134.35" fill="none" stroke="#EB7424" stroke-width="1" stroke-linejoin="round"/>
<polygon points="252.56,130.37 254.51,132.32 252.56,134.27 250.61,132.32" fill="none" stroke="#7030A0" stroke-width="1.15"/>
<polygon points="252.56,137.01 250.61,140.01 254.51,140.01" fill="none" stroke="#EB7424" stroke-width="1" stroke-linejoin="round"/>
<polygon points="252.56,136.03 254.51,137.98 252.56,139.93 250.61,137.98" fill="none" stroke="#7030A0" stroke-width="1.15"/>
<polygon points="252.56,144.93 250.61,147.93 254.51,147.93" fill="none" stroke="#EB7424" stroke-width="1" stroke-linejoin="round"/>
<polygon points="252.56,143.95 254.51,145.9 252.56,147.85 250.61,145.9" fill="none" stroke="#7030A0" stroke-width="1.15"/>
<polygon points="268.74,97.39 266.79,100.39 270.69,100.39" fill="none" stroke="#EB7424" stroke-width="1" stroke-linejoin="round"/>
<polygon points="268.74,96.41 270.69,98.36 268.74,100.31 266.79,98.36" fill="none" stroke="#7030A0" stroke-width="1.15"/>
<polygon points="268.74,103.05 266.79,106.05 270.69,106.05" fill="none" stroke="#EB7424" stroke-width="1" stroke-linejoin="round"/>
<polygon points="268.74,102.07 270.69,104.02 268.74,105.97 266.79,104.02" fill="none" stroke="#7030A0" stroke-width="1.15"/>
<polygon points="268.74,108.71 266.79,111.71 270.69,111.71" fill="none" stroke="#EB7424" stroke-width="1" stroke-linejoin="round"/>
<polygon points="268.74,107.73 270.69,109.68 268.74,111.63 266.79,109.68" fill="none" stroke="#7030A0" stroke-width="1.15"/>
<polygon points="268.74,114.37 266.79,117.37 270.69,117.37" fill="none" stroke="#EB7424" stroke-width="1" stroke-linejoin="round"/>
<polygon points="268.74,113.39 270.69,115.34 268.74,117.29 266.79,115.34" fill="none" stroke="#7030A0" stroke-width="1.15"/>
<polygon points="268.74,120.03 266.79,123.03 270.69,123.03" fill="none" stroke="#EB7424" stroke-width="1" stroke-linejoin="round"/>
<polygon points="268.74,119.05 270.69,121 268.74,122.95 266.79,121" fill="none" stroke="#7030A0" stroke-width="1.15"/>
<polygon points="268.74,125.69 266.79,128.69 270.69,128.69" fill="none" stroke="#EB7424" stroke-width="1" stroke-linejoin="round"/>
<polygon points="268.74,124.71 270.69,126.66 268.74,128.61 266.79,126.66" fill="none" stroke="#7030A0" stroke-width="1.15"/>
<polygon points="268.74,131.35 266.79,134.35 270.69,134.35" fill="none" stroke="#EB7424" stroke-width="1" stroke-linejoin="round"/>
<polygon points="268.74,130.37 270.69,132.32 268.74,134.27 266.79,132.32" fill="none" stroke="#7030A0" stroke-width="1.15"/>
<polygon points="268.74,137.01 266.79,140.01 270.69,140.01" fill="none" stroke="#EB7424" stroke-width="1" stroke-linejoin="round"/>
<polygon points="268.74,136.03 270.69,137.98 268.74,139.93 266.79,137.98" fill="none" stroke="#7030A0" stroke-width="1.15"/>
<polygon points="268.74,144.93 266.79,147.93 270.69,147.93" fill="none" stroke="#EB7424" stroke-width="1" stroke-linejoin="round"/>
<polygon points="268.74,143.95 270.69,145.9 268.74,147.85 266.79,145.9" fill="none" stroke="#7030A0" stroke-width="1.15"/>
<polygon points="284.92,97.39 282.97,100.39 286.87,100.39" fill="none" stroke="#EB7424" stroke-width="1" stroke-linejoin="round"/>
<polygon points="284.92,96.41 286.87,98.36 284.92,100.31 282.97,98.36" fill="none" stroke="#7030A0" stroke-width="1.15"/>
<polygon points="284.92,103.05 282.97,106.05 286.87,106.05" fill="none" stroke="#EB7424" stroke-width="1" stroke-linejoin="round"/>
<polygon points="284.92,102.07 286.87,104.02 284.92,105.97 282.97,104.02" fill="none" stroke="#7030A0" stroke-width="1.15"/>
<polygon points="284.92,108.71 282.97,111.71 286.87,111.71" fill="none" stroke="#EB7424" stroke-width="1" stroke-linejoin="round"/>
<polygon points="284.92,107.73 286.87,109.68 284.92,111.63 282.97,109.68" fill="none" stroke="#7030A0" stroke-width="1.15"/>
<polygon points="284.92,114.37 282.97,117.37 286.87,117.37" fill="none" stroke="#EB7424" stroke-width="1" stroke-linejoin="round"/>
<polygon points="284.92,113.39 286.87,115.34 284.92,117.29 282.97,115.34" fill="none" stroke="#7030A0" stroke-width="1.15"/>
<polygon points="284.92,120.03 282.97,123.03 286.87,123.03" fill="none" stroke="#EB7424" stroke-width="1" stroke-linejoin="round"/>
<polygon points="284.92,119.05 286.87,121 284.92,122.95 282.97,121" fill="none" stroke="#7030A0" stroke-width="1.15"/>
<polygon points="284.92,125.69 282.97,128.69 286.87,128.69" fill="none" stroke="#EB7424" stroke-width="1" stroke-linejoin="round"/>
<polygon points="284.92,124.71 286.87,126.66 284.92,128.61 282.97,126.66" fill="none" stroke="#7030A0" stroke-width="1.15"/>
<polygon points="284.92,131.35 282.97,134.35 286.87,134.35" fill="none" stroke="#EB7424" stroke-width="1" stroke-linejoin="round"/>
<polygon points="284.92,130.37 286.87,132.32 284.92,134.27 282.97,132.32" fill="none" stroke="#7030A0" stroke-width="1.15"/>
<polygon points="284.92,137.01 282.97,140.01 286.87,140.01" fill="none" stroke="#EB7424" stroke-width="1" stroke-linejoin="round"/>
<polygon points="284.92,136.03 286.87,137.98 284.92,139.93 282.97,137.98" fill="none" stroke="#7030A0" stroke-width="1.15"/>
<polygon points="284.92,144.93 282.97,147.93 286.87,147.93" fill="none" stroke="#EB7424" stroke-width="1" stroke-linejoin="round"/>
<polygon points="284.92,143.95 286.87,145.9 284.92,147.85 282.97,145.9" fill="none" stroke="#7030A0" stroke-width="1.15"/>
<polygon points="301.1,96.69 298.8,100.49 303.4,100.49" fill="none" stroke="#EB7424" stroke-width="0.9" stroke-linejoin="round"/>
<polygon points="301.1,102.35 298.8,106.15 303.4,106.15" fill="none" stroke="#EB7424" stroke-width="0.9" stroke-linejoin="round"/>
<polygon points="301.1,108.01 298.8,111.81 303.4,111.81" fill="none" stroke="#EB7424" stroke-width="0.9" stroke-linejoin="round"/>
<polygon points="301.1,113.67 298.8,117.47 303.4,117.47" fill="none" stroke="#EB7424" stroke-width="0.9" stroke-linejoin="round"/>
<polygon points="301.1,119.33 298.8,123.13 303.4,123.13" fill="none" stroke="#EB7424" stroke-width="0.9" stroke-linejoin="round"/>
<polygon points="301.1,124.99 298.8,128.79 303.4,128.79" fill="none" stroke="#EB7424" stroke-width="0.9" stroke-linejoin="round"/>
<polygon points="301.1,130.65 298.8,134.45 303.4,134.45" fill="none" stroke="#EB7424" stroke-width="0.9" stroke-linejoin="round"/>
<polygon points="301.1,136.31 298.8,140.11 303.4,140.11" fill="none" stroke="#EB7424" stroke-width="0.9" stroke-linejoin="round"/>
<polygon points="301.1,144.23 298.8,148.03 303.4,148.03" fill="none" stroke="#EB7424" stroke-width="0.9" stroke-linejoin="round"/>
<path d="M229.5 107.4 L248 107.4 L248 149.3" stroke="#3a3a3a" stroke-width="1.15" fill="none"/>
<path d="M290.7 97 L290.7 149.3" stroke="#3a3a3a" stroke-width="1.15" fill="none"/>
<line x1="244.8" y1="101.6" x2="239.6" y2="107.2" stroke="#000" stroke-width="0.8"/>
<polygon points="239.6,107.2 240.47,104.87 241.86,106.16" fill="#000"/>
<text x="245.6" y="101.7" font-size="4.8" text-anchor="middle" font-weight="bold" fill="#000" stroke="#000" stroke-width="0.12">U</text>
<text x="242.3" y="129.9" font-size="4.8" text-anchor="middle" font-weight="bold" fill="#000" stroke="#000" stroke-width="0.12">H<tspan font-size="3.7" dy="0.35">II</tspan></text>
<text x="270.6" y="123.8" font-size="4.8" text-anchor="start" font-weight="bold" fill="#000" stroke="#000" stroke-width="0.12">H<tspan font-size="3.7" dy="0.35">II</tspan><tspan dx="0.3" dy="-0.35">/</tspan></text>
<text x="271.4" y="130.5" font-size="4.8" text-anchor="start" font-weight="bold" fill="#000" stroke="#000" stroke-width="0.12">Pn3m</text>
<text x="307.2" y="117.4" font-size="4.8" text-anchor="middle" font-weight="bold" fill="#000" stroke="#000" stroke-width="0.12">H<tspan font-size="3.7" dy="0.35">II</tspan></text>
<circle cx="132.47" cy="177.89" r="1.85" fill="none" stroke="#3D6BC0" stroke-width="0.9"/>
<circle cx="132.47" cy="183.58" r="1.85" fill="none" stroke="#3D6BC0" stroke-width="0.9"/>
<circle cx="132.47" cy="189.27" r="1.85" fill="none" stroke="#3D6BC0" stroke-width="0.9"/>
<circle cx="132.47" cy="194.96" r="1.85" fill="none" stroke="#3D6BC0" stroke-width="0.9"/>
<circle cx="148.18" cy="177.89" r="1.85" fill="none" stroke="#3D6BC0" stroke-width="0.9"/>
<circle cx="148.18" cy="183.58" r="1.85" fill="none" stroke="#3D6BC0" stroke-width="0.9"/>
<circle cx="148.18" cy="189.27" r="1.85" fill="none" stroke="#3D6BC0" stroke-width="0.9"/>
<circle cx="148.18" cy="194.96" r="1.85" fill="none" stroke="#3D6BC0" stroke-width="0.9"/>
<circle cx="163.88" cy="177.89" r="1.85" fill="none" stroke="#3D6BC0" stroke-width="0.9"/>
<circle cx="163.88" cy="183.58" r="1.85" fill="none" stroke="#3D6BC0" stroke-width="0.9"/>
<circle cx="163.88" cy="189.27" r="1.85" fill="none" stroke="#3D6BC0" stroke-width="0.9"/>
<circle cx="163.88" cy="194.96" r="1.85" fill="none" stroke="#3D6BC0" stroke-width="0.9"/>
<rect x="177.78" y="176.09" width="3.6" height="3.6" fill="none" stroke="#999999" stroke-width="0.95"/>
<rect x="177.78" y="181.78" width="3.6" height="3.6" fill="none" stroke="#999999" stroke-width="0.95"/>
<rect x="177.78" y="187.47" width="3.6" height="3.6" fill="none" stroke="#999999" stroke-width="0.95"/>
<rect x="177.78" y="193.16" width="3.6" height="3.6" fill="none" stroke="#999999" stroke-width="0.95"/>
<rect x="193.49" y="176.09" width="3.6" height="3.6" fill="none" stroke="#999999" stroke-width="0.95"/>
<rect x="193.49" y="181.78" width="3.6" height="3.6" fill="none" stroke="#999999" stroke-width="0.95"/>
<rect x="193.49" y="187.47" width="3.6" height="3.6" fill="none" stroke="#999999" stroke-width="0.95"/>
<rect x="193.49" y="193.16" width="3.6" height="3.6" fill="none" stroke="#999999" stroke-width="0.95"/>
<path d="M130.47 200.65H134.47M132.47 198.65V202.65" stroke="#FF0000" stroke-width="1.1" fill="none"/>
<path d="M130.47 206.34H134.47M132.47 204.34V208.34" stroke="#FF0000" stroke-width="1.1" fill="none"/>
<path d="M130.47 212.03H134.47M132.47 210.03V214.03" stroke="#FF0000" stroke-width="1.1" fill="none"/>
<path d="M130.47 217.72H134.47M132.47 215.72V219.72" stroke="#FF0000" stroke-width="1.1" fill="none"/>
<path d="M130.47 225.69H134.47M132.47 223.69V227.69" stroke="#FF0000" stroke-width="1.1" fill="none"/>
<path d="M146.18 200.65H150.18M148.18 198.65V202.65" stroke="#FF0000" stroke-width="1.1" fill="none"/>
<path d="M146.18 206.34H150.18M148.18 204.34V208.34" stroke="#FF0000" stroke-width="1.1" fill="none"/>
<path d="M146.18 212.03H150.18M148.18 210.03V214.03" stroke="#FF0000" stroke-width="1.1" fill="none"/>
<path d="M146.18 217.72H150.18M148.18 215.72V219.72" stroke="#FF0000" stroke-width="1.1" fill="none"/>
<path d="M146.18 225.69H150.18M148.18 223.69V227.69" stroke="#FF0000" stroke-width="1.1" fill="none"/>
<path d="M161.88 200.65H165.88M163.88 198.65V202.65" stroke="#FF0000" stroke-width="1.1" fill="none"/>
<path d="M161.88 206.34H165.88M163.88 204.34V208.34" stroke="#FF0000" stroke-width="1.1" fill="none"/>
<path d="M161.88 212.03H165.88M163.88 210.03V214.03" stroke="#FF0000" stroke-width="1.1" fill="none"/>
<path d="M161.88 217.72H165.88M163.88 215.72V219.72" stroke="#FF0000" stroke-width="1.1" fill="none"/>
<path d="M161.88 225.69H165.88M163.88 223.69V227.69" stroke="#FF0000" stroke-width="1.1" fill="none"/>
<path d="M177.58 200.65H181.58M179.58 198.65V202.65" stroke="#FF0000" stroke-width="1.1" fill="none"/>
<path d="M177.58 206.34H181.58M179.58 204.34V208.34" stroke="#FF0000" stroke-width="1.1" fill="none"/>
<path d="M177.58 212.03H181.58M179.58 210.03V214.03" stroke="#FF0000" stroke-width="1.1" fill="none"/>
<path d="M177.58 217.72H181.58M179.58 215.72V219.72" stroke="#FF0000" stroke-width="1.1" fill="none"/>
<path d="M177.58 225.69H181.58M179.58 223.69V227.69" stroke="#FF0000" stroke-width="1.1" fill="none"/>
<path d="M193.29 200.65H197.29M195.29 198.65V202.65" stroke="#FF0000" stroke-width="1.1" fill="none"/>
<path d="M193.29 206.34H197.29M195.29 204.34V208.34" stroke="#FF0000" stroke-width="1.1" fill="none"/>
<path d="M193.29 212.03H197.29M195.29 210.03V214.03" stroke="#FF0000" stroke-width="1.1" fill="none"/>
<path d="M193.29 217.72H197.29M195.29 215.72V219.72" stroke="#FF0000" stroke-width="1.1" fill="none"/>
<path d="M193.29 225.69H197.29M195.29 223.69V227.69" stroke="#FF0000" stroke-width="1.1" fill="none"/>
<path d="M128.3 198 L198.5 198" stroke="#3a3a3a" stroke-width="1.15" fill="none"/>
<path d="M171.7 175.2 L171.7 198" stroke="#3a3a3a" stroke-width="1.15" fill="none"/>
<text x="141.3" y="180.9" font-size="4.8" text-anchor="middle" font-weight="bold" fill="#000" stroke="#000" stroke-width="0.12">L<tspan font-size="4.0" dy="0.35">α</tspan></text>
<text x="182.3" y="180.1" font-size="4.8" text-anchor="start" font-weight="bold" fill="#000" stroke="#000" stroke-width="0.12">Ia3d</text>
<text x="155.9" y="211.9" font-size="4.8" text-anchor="middle" font-weight="bold" fill="#000" stroke="#000" stroke-width="0.12">Cryst</text>
<polygon points="236.28,176.18 233.98,179.98 238.58,179.98" fill="none" stroke="#EB7424" stroke-width="0.9" stroke-linejoin="round"/>
<polygon points="236.28,181.83 233.98,185.63 238.58,185.63" fill="none" stroke="#EB7424" stroke-width="0.9" stroke-linejoin="round"/>
<polygon points="236.28,187.48 233.98,191.28 238.58,191.28" fill="none" stroke="#EB7424" stroke-width="0.9" stroke-linejoin="round"/>
<polygon points="236.28,193.13 233.98,196.93 238.58,196.93" fill="none" stroke="#EB7424" stroke-width="0.9" stroke-linejoin="round"/>
<polygon points="236.28,198.78 233.98,202.58 238.58,202.58" fill="none" stroke="#EB7424" stroke-width="0.9" stroke-linejoin="round"/>
<polygon points="236.28,204.43 233.98,208.23 238.58,208.23" fill="none" stroke="#EB7424" stroke-width="0.9" stroke-linejoin="round"/>
<polygon points="236.28,210.08 233.98,213.88 238.58,213.88" fill="none" stroke="#EB7424" stroke-width="0.9" stroke-linejoin="round"/>
<polygon points="236.28,215.73 233.98,219.53 238.58,219.53" fill="none" stroke="#EB7424" stroke-width="0.9" stroke-linejoin="round"/>
<rect x="250.95" y="175.9" width="3.9" height="3.9" fill="none" stroke="#999999" stroke-width="0.75"/>
<polygon points="252.9,176.45 250.9,179.85 254.9,179.85" fill="none" stroke="#EB7424" stroke-width="0.9" stroke-linejoin="round"/>
<polygon points="252.9,181.83 250.6,185.63 255.2,185.63" fill="none" stroke="#EB7424" stroke-width="0.9" stroke-linejoin="round"/>
<polygon points="252.9,187.48 250.6,191.28 255.2,191.28" fill="none" stroke="#EB7424" stroke-width="0.9" stroke-linejoin="round"/>
<polygon points="252.9,193.13 250.6,196.93 255.2,196.93" fill="none" stroke="#EB7424" stroke-width="0.9" stroke-linejoin="round"/>
<polygon points="252.9,198.78 250.6,202.58 255.2,202.58" fill="none" stroke="#EB7424" stroke-width="0.9" stroke-linejoin="round"/>
<polygon points="252.9,204.43 250.6,208.23 255.2,208.23" fill="none" stroke="#EB7424" stroke-width="0.9" stroke-linejoin="round"/>
<polygon points="252.9,210.08 250.6,213.88 255.2,213.88" fill="none" stroke="#EB7424" stroke-width="0.9" stroke-linejoin="round"/>
<polygon points="252.9,215.73 250.6,219.53 255.2,219.53" fill="none" stroke="#EB7424" stroke-width="0.9" stroke-linejoin="round"/>
<path d="M234.28 225.31H238.28M236.28 223.31V227.31" stroke="#FF0000" stroke-width="1.1" fill="none"/>
<path d="M250.9 225.31H254.9M252.9 223.31V227.31" stroke="#FF0000" stroke-width="1.1" fill="none"/>
<rect x="267.72" y="181.7" width="3.6" height="3.6" fill="none" stroke="#999999" stroke-width="0.95"/>
<rect x="267.72" y="187.35" width="3.6" height="3.6" fill="none" stroke="#999999" stroke-width="0.95"/>
<rect x="267.72" y="193" width="3.6" height="3.6" fill="none" stroke="#999999" stroke-width="0.95"/>
<rect x="267.72" y="198.65" width="3.6" height="3.6" fill="none" stroke="#999999" stroke-width="0.95"/>
<rect x="267.72" y="204.3" width="3.6" height="3.6" fill="none" stroke="#999999" stroke-width="0.95"/>
<rect x="267.72" y="209.95" width="3.6" height="3.6" fill="none" stroke="#999999" stroke-width="0.95"/>
<rect x="267.72" y="215.6" width="3.6" height="3.6" fill="none" stroke="#999999" stroke-width="0.95"/>
<rect x="267.72" y="223.51" width="3.6" height="3.6" fill="none" stroke="#999999" stroke-width="0.95"/>
<rect x="284.34" y="176.05" width="3.6" height="3.6" fill="none" stroke="#999999" stroke-width="0.95"/>
<rect x="284.34" y="181.7" width="3.6" height="3.6" fill="none" stroke="#999999" stroke-width="0.95"/>
<rect x="284.34" y="187.35" width="3.6" height="3.6" fill="none" stroke="#999999" stroke-width="0.95"/>
<rect x="284.34" y="193" width="3.6" height="3.6" fill="none" stroke="#999999" stroke-width="0.95"/>
<rect x="284.34" y="198.65" width="3.6" height="3.6" fill="none" stroke="#999999" stroke-width="0.95"/>
<rect x="284.34" y="204.3" width="3.6" height="3.6" fill="none" stroke="#999999" stroke-width="0.95"/>
<rect x="284.34" y="209.95" width="3.6" height="3.6" fill="none" stroke="#999999" stroke-width="0.95"/>
<rect x="284.34" y="215.6" width="3.6" height="3.6" fill="none" stroke="#999999" stroke-width="0.95"/>
<rect x="284.34" y="223.51" width="3.6" height="3.6" fill="none" stroke="#999999" stroke-width="0.95"/>
<rect x="300.96" y="176.05" width="3.6" height="3.6" fill="none" stroke="#999999" stroke-width="0.95"/>
<rect x="300.96" y="181.7" width="3.6" height="3.6" fill="none" stroke="#999999" stroke-width="0.95"/>
<rect x="300.96" y="187.35" width="3.6" height="3.6" fill="none" stroke="#999999" stroke-width="0.95"/>
<rect x="300.96" y="193" width="3.6" height="3.6" fill="none" stroke="#999999" stroke-width="0.95"/>
<rect x="300.96" y="198.65" width="3.6" height="3.6" fill="none" stroke="#999999" stroke-width="0.95"/>
<rect x="300.96" y="204.3" width="3.6" height="3.6" fill="none" stroke="#999999" stroke-width="0.95"/>
<rect x="300.96" y="209.95" width="3.6" height="3.6" fill="none" stroke="#999999" stroke-width="0.95"/>
<rect x="300.96" y="215.6" width="3.6" height="3.6" fill="none" stroke="#999999" stroke-width="0.95"/>
<rect x="300.96" y="223.51" width="3.6" height="3.6" fill="none" stroke="#999999" stroke-width="0.95"/>
<path d="M228.9 222 L262 222" stroke="#3a3a3a" stroke-width="1.15" fill="none"/>
<path d="M262 175.8 L262 228" stroke="#3a3a3a" stroke-width="1.15" fill="none"/>
<line x1="273.4" y1="179.4" x2="256.2" y2="177.2" stroke="#000" stroke-width="0.8"/>
<polygon points="256.2,177.2 258.6,176.55 258.36,178.43" fill="#000"/>
<text x="243.5" y="209.3" font-size="4.8" text-anchor="middle" font-weight="bold" fill="#000" stroke="#000" stroke-width="0.12">H<tspan font-size="3.7" dy="0.35">II</tspan></text>
<text x="244.8" y="226.6" font-size="4.8" text-anchor="middle" font-weight="bold" fill="#000" stroke="#000" stroke-width="0.12">Cryst</text>
<text x="274.5" y="180.5" font-size="4.8" text-anchor="start" font-weight="bold" fill="#000" stroke="#000" stroke-width="0.12">H<tspan font-size="3.7" dy="0.35">II</tspan><tspan dx="0.3" dy="-0.35">/</tspan></text>
<text x="274.5" y="187.7" font-size="4.8" text-anchor="start" font-weight="bold" fill="#000" stroke="#000" stroke-width="0.12">Ia3d</text>
<text x="273.2" y="210.4" font-size="4.8" text-anchor="start" font-weight="bold" fill="#000" stroke="#000" stroke-width="0.12">Ia3d</text>
<circle cx="311.1" cy="3.9" r="1.4" fill="none" stroke="#3D6BC0" stroke-width="1.1"/>
<polygon points="311.2,11.39 309.4,14.59 313,14.59" fill="none" stroke="#EB7424" stroke-width="1" stroke-linejoin="round"/>
<rect x="309.65" y="20.25" width="3.1" height="3.1" fill="none" stroke="#999999" stroke-width="1"/>
<polygon points="311,29.45 312.75,31.2 311,32.95 309.25,31.2" fill="none" stroke="#7030A0" stroke-width="1.1"/>
<line x1="309.5" y1="40.3" x2="312.9" y2="40.3" stroke="#FFC000" stroke-width="1.2"/>
<circle cx="311.5" cy="49.8" r="1.2" fill="#FF0000"/>
<text x="313.9" y="5.54" font-size="5.1" text-anchor="start" font-weight="normal" fill="#1e1e1e" textLength="5.8" lengthAdjust="spacingAndGlyphs" stroke="#1e1e1e" stroke-width="0.18">Lα</text>
<text x="313.9" y="14.44" font-size="5.1" text-anchor="start" font-weight="normal" fill="#1e1e1e" textLength="6.3" lengthAdjust="spacingAndGlyphs" stroke="#1e1e1e" stroke-width="0.18">HII</text>
<text x="313.9" y="23.44" font-size="5.1" text-anchor="start" font-weight="normal" fill="#1e1e1e" textLength="10.4" lengthAdjust="spacingAndGlyphs" stroke="#1e1e1e" stroke-width="0.18">Ia3d</text>
<text x="313.9" y="32.84" font-size="5.1" text-anchor="start" font-weight="normal" fill="#1e1e1e" textLength="13.5" lengthAdjust="spacingAndGlyphs" stroke="#1e1e1e" stroke-width="0.18">Pn3m</text>
<text x="313.9" y="41.94" font-size="5.1" text-anchor="start" font-weight="normal" fill="#1e1e1e" textLength="29" lengthAdjust="spacingAndGlyphs" stroke="#1e1e1e" stroke-width="0.18">Unidentified</text>
<text x="313.9" y="51.44" font-size="5.1" text-anchor="start" font-weight="normal" fill="#1e1e1e" textLength="24.3" lengthAdjust="spacingAndGlyphs" stroke="#1e1e1e" stroke-width="0.18">Crystalline</text>
</g>
</svg>
</body></html>
